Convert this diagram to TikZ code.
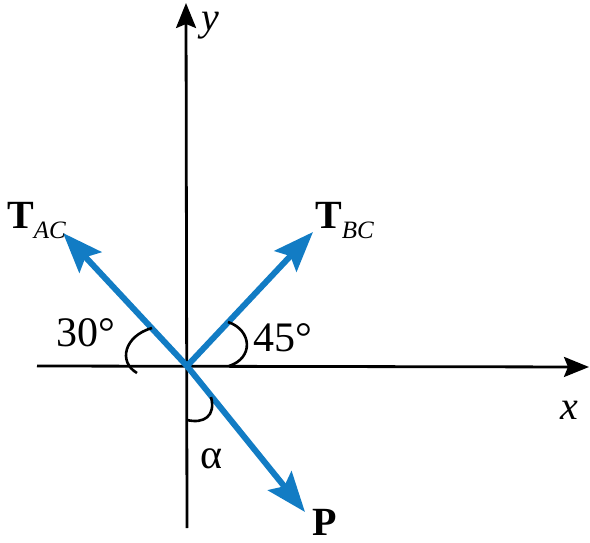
\documentclass[tikz,border=0pt]{standalone}
\usepackage{fontspec}
\setmainfont{Liberation Serif}
\usetikzlibrary{arrows.meta}
\definecolor{forceblue}{RGB}{18,124,196}
\tikzset{
  axis/.style={line width=2.8pt, black, -{Stealth[length=25pt,width=20pt,inset=4pt]}},
  force/.style={line width=6pt, forceblue, -{Stealth[length=40pt,width=30pt,inset=7pt]}, shorten <=-1pt},
  anglearc/.style={line width=2.6pt, black},
  lbl/.style={inner sep=0pt, anchor=base west, font=\fontsize{40}{42}\selectfont},
  deg/.style={lbl, font=\fontsize{42}{44}\selectfont},
}
\newcommand{\subtxt}[1]{\raisebox{-10pt}{\fontsize{25}{27}\selectfont\textit{#1}}}
\begin{document}
\begin{tikzpicture}[x=1pt,y=-1pt]
\useasboundingbox (0,0) rectangle (590,543);
% key points
\coordinate (O) at (187,366);
\coordinate (xL) at (37,366);
\coordinate (xR) at (589,367);
\coordinate (yB) at (187,528);
\coordinate (yT) at (186,3);
\coordinate (tAC) at (63,233);
\coordinate (tBC) at (313,232);
\coordinate (tP) at (305,512);
% axes
\draw[axis] (xL) -- (xR);
\draw[axis] (yB) -- (yT);
% forces
\draw[force] (O) -- (tAC);
\draw[force] (O) -- (tBC);
\draw[force] (O) -- (tP);
% angle arcs
\coordinate (a30s) at (152,328);
\coordinate (a30e) at (137,373);
\draw[anglearc] (a30s) .. controls (124,336) and (118,362) .. (a30e);
\coordinate (a45s) at (228,322);
\coordinate (a45e) at (229,366);
\draw[anglearc] (a45s) .. controls (252,330) and (254,358) .. (a45e);
\coordinate (aAs) at (187,420);
\coordinate (aAe) at (211,397);
\draw[anglearc] (aAs) .. controls (204,424) and (216,416) .. (aAe);
% labels
\node[lbl] (ly) at (201,31) {\textit{y}};
\node[lbl] (lx) at (560,419) {\textit{x}};
\node[lbl] (lTAC) at (7,228) {\textbf{T}\subtxt{AC}};
\node[lbl] (lTBC) at (315,228) {\textbf{T}\subtxt{BC}};
\node[lbl] (lP) at (312,535) {\textbf{P}};
\node[deg] (l30) at (56,346) {30°};
\node[deg] (l45) at (253,351) {45°};
\node[deg] (lal) at (200,468) {α};
\end{tikzpicture}
\end{document}
